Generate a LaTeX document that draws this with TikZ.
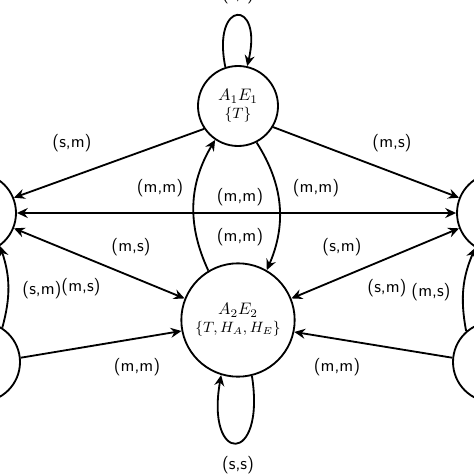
\documentclass[tikz,border=0pt]{standalone}
\usetikzlibrary{arrows.meta}
\begin{document}
\begin{tikzpicture}[x=0.6pt,y=-0.6pt,
  state/.style={circle,draw,line width=1.1pt,minimum size=48pt,inner sep=0pt,align=center},
  bigstate/.style={state,minimum size=68pt},
  edge/.style={line width=1.1pt,-{Stealth[length=6.5pt,width=6pt,inset=2.2pt]}},
  dedge/.style={line width=1.1pt,{Stealth[length=6.5pt,width=6pt,inset=2.2pt]}-{Stealth[length=6.5pt,width=6pt,inset=2.2pt]}},
  lbl/.style={font=\sffamily\fontsize{10.5}{12}\selectfont,inner sep=0pt}]
\useasboundingbox (0,0) rectangle (474,474);
\clip (0,0) rectangle (474,474);
\fill[white] (0,0) rectangle (474,474);
% nodes
\node[state] (A1) at (238,106) {$A_1E_1$\\[-1pt]{\small$\{T\}$}};
\node[bigstate] (A2) at (238,320) {$A_2E_2$\\[-1pt]{\small$\{T,H_A,H_E\}$}};
\node[state] (L) at (-24,213) {};
\node[state] (R) at (497,213) {};
\node[state] (LL) at (-20,362) {};
\node[state] (LR) at (493,362) {};
% straight edges
\draw[edge] (A1.214) -- (L.22);
\draw[edge] (A1.329) -- (R.158);
\draw[dedge] (L) -- (R);
\draw[dedge] (L.338) -- (A2.158);
\draw[dedge] (R.202) -- (A2.22);
\draw[edge] (LL.6) -- (A2.191);
\draw[edge] (LR.174) -- (A2.348);
% curved edges
\draw[edge] (A2.121) to[bend left=28] (A1.236);
\draw[edge] (A1.297) to[bend left=28] (A2.60);
\draw[edge] (LL.57) to[bend right=17] (L.306);
\draw[edge] (LR.131) to[bend left=17] (R.238);
% loops
\draw[edge] (A1.108) .. controls +(-14,-68) and +(16,-68) .. (A1.77);
\draw[edge] (A2.284) .. controls +(14,90) and +(-16,90) .. (A2.253);
% labels
\node[lbl] (ls1) at (238,-5) {(s,s)};
\node[lbl] (ls2) at (238,465) {(s,s)};
\node[lbl] (l1) at (72,143) {(s,m)};
\node[lbl] (l2) at (392,143) {(m,s)};
\node[lbl] (l3) at (160,188) {(m,m)};
\node[lbl] (l4) at (316,188) {(m,m)};
\node[lbl] (l5) at (240,197) {(m,m)};
\node[lbl] (l6) at (240,237) {(m,m)};
\node[lbl] (l7) at (131,247) {(m,s)};
\node[lbl] (l8) at (342,247) {(s,m)};
\node[lbl] (l9) at (42,290) {(s,m)};
\node[lbl] (l10) at (81,287) {(m,s)};
\node[lbl] (l11) at (387,288) {(s,m)};
\node[lbl] (l12) at (431,292) {(m,s)};
\node[lbl] (l13) at (137,367) {(m,m)};
\node[lbl] (l14) at (337,367) {(m,m)};
\end{tikzpicture}
\end{document}
